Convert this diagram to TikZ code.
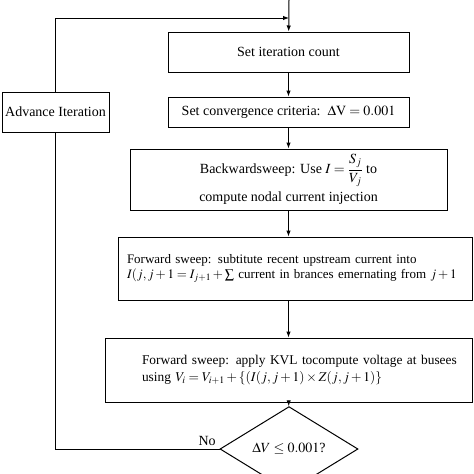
\documentclass[tikz,border=0pt]{standalone}
\usepackage{amsmath}
\usepackage{mathptmx}
\usepackage{fontspec}
\setmainfont{Liberation Serif}
\usetikzlibrary{shapes.geometric,arrows.meta}

\begin{document}
\begin{tikzpicture}
  [x=1pt, y=-1pt, line width=1pt,
   >={Latex[length=6pt,width=4.5pt]},
   every node/.style={font=\fontsize{14}{16}\selectfont},
   stage box/.style={draw, rectangle, inner sep=0pt},
   test box/.style={draw, diamond, inner sep=0pt, minimum width=138pt, minimum height=40pt}]
  \useasboundingbox (0, 0) rectangle (474, 474);
  % main column
  \coordinate (top) at (289, 0);
  \coordinate (join) at (289, 18);
  \coordinate (bottom) at (289, 474);
  \node[stage box, minimum width=241pt, minimum height=40pt] (count) at (288.5, 52) {Set iteration count};
  \node[stage box, minimum width=241pt, minimum height=30pt] (criteria) at (288.5, 112)
    {Set convergence criteria:\enspace $\Delta\mathrm{V}=0.001$};
  \node[stage box, minimum width=317pt, minimum height=61pt, align=center] (backward) at (288.5, 179.5)
    {Backwardsweep: Use $I=\dfrac{S_j}{V_j}$ to\\[4pt] compute nodal current injection};
  \node[stage box, minimum width=354pt, minimum height=63pt, text width=354pt, align=left,
        font=\fontsize{13}{15}\selectfont] (forward) at (295, 268.5)
    {\hspace*{9pt}Forward sweep: subtitute recent upstream current into\\
     \hspace*{9pt}$I(j, j+1 = I_{j+1} + \sum$ current in brances emernating from $j+1$};
  \node[stage box, minimum width=367pt, minimum height=64pt, text width=367pt, align=left,
        font=\fontsize{13.4}{15.5}\selectfont] (kvl) at (288.5, 370)
    {\hspace*{37pt}Forward sweep: apply KVL tocompute voltage at busees\\[2pt]
     \hspace*{37pt}using $V_i = V_{i+1} + \{(I(j, j+1)\times Z(j, j+1)\}$};
  \node[test box] (check) at (289, 449) {$\Delta V \le 0.001$?};
  % loop back
  \node[stage box, minimum width=107pt, minimum height=40pt] (advance) at (55.5, 112) {Advance Iteration};
  \node[above left] (no) at (check.west) {No};
  % connectors
  \draw[->] (top) -- (count);
  \draw[->] (count) -- (criteria);
  \draw[->] (criteria) -- (backward);
  \draw[->] (backward.south) -- (backward.south |- forward.north);
  \draw[->] (forward.south -| kvl.north) -- (kvl.north);
  \draw[->] (kvl) -- (check);
  \draw (check) -- (bottom);
  \draw (check.west) -| (advance.south);
  \draw[->] (advance.north) |- (join);
\end{tikzpicture}
\end{document}
